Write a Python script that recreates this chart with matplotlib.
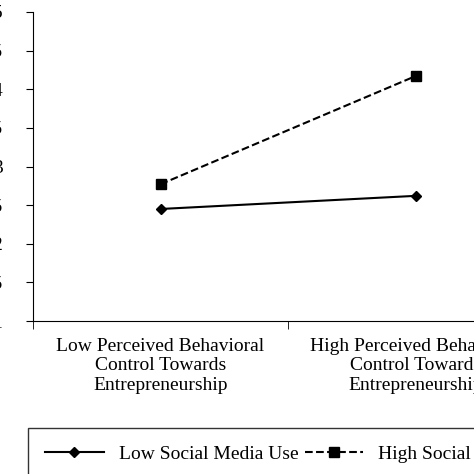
import matplotlib
matplotlib.use("Agg")
import matplotlib.pyplot as plt

plt.rcParams['font.family'] = ['Liberation Serif', 'DejaVu Serif']

categories = ["Low Perceived Behavioral\nControl Towards\nEntrepreneurship",
              "High Perceived Behavioral\nControl Towards\nEntrepreneurship"]
low_sm = [2.45, 2.62]
high_sm = [2.77, 4.17]
yticks = [1, 1.5, 2, 2.5, 3, 3.5, 4, 4.5, 5]
ylabels = ["1", "1.5", "2", "2.5", "3", "3.5", "4", "4.5", "5"]

fig = plt.figure(figsize=(4.74, 4.74), dpi=100)
ax = fig.add_axes([33 / 474, 1 - 321 / 474, 510 / 474, 309 / 474])
x = [0.5, 1.5]
ax.plot(x, low_sm, color='black', lw=1.5, marker='D', ms=5, label='Low Social Media Use')
ax.plot(x, high_sm, color='black', lw=1.5, ls='--', marker='s', ms=7, label='High Social Media Use')
ax.set_xlim(0, 2)
ax.set_ylim(1, 5)
ax.set_yticks(yticks)
ax.set_yticklabels(ylabels, fontsize=14)
ax.set_xticks(x)
ax.set_xticklabels(categories, fontsize=14)
ax.tick_params(axis='x', length=0, pad=12)
ax.set_xticks([0, 1, 2], minor=True)
ax.tick_params(axis='x', which='minor', length=6, direction='out')
ax.tick_params(axis='y', length=5, direction='out', pad=17)
for s in ['top', 'right']:
    ax.spines[s].set_visible(False)

fig.legend(loc='upper left', bbox_to_anchor=(18 / 474, 1 - 418 / 474), ncol=2,
           fontsize=14, frameon=True, fancybox=False, edgecolor='black',
           handlelength=3, columnspacing=0.3, borderpad=0.9)
fig.savefig("out.png", dpi=100)
